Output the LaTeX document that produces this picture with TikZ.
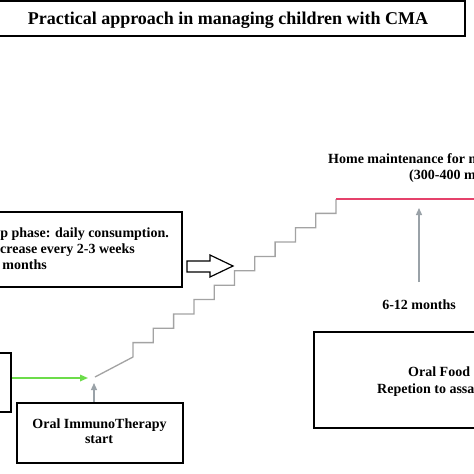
\documentclass[tikz,border=0pt]{standalone}
\usepackage{fontspec}
\setmainfont{Liberation Serif}
\usetikzlibrary{arrows.meta}
\definecolor{stairgrey}{HTML}{A3A3A3}
\definecolor{arrowgrey}{HTML}{9AA2A8}
\definecolor{lightgreen}{HTML}{6CDC4A}
\definecolor{rosered}{HTML}{E5416B}
\begin{document}
\begin{tikzpicture}[x=1pt,y=-1pt,
  box/.style={draw=black, line width=2.5pt, inner sep=0pt},
  titlebox/.style={draw=black, line width=2pt, inner sep=0pt},
  txt/.style={font=\fontsize{14}{16}\selectfont\bfseries, inner sep=0pt},
  titletxt/.style={font=\fontsize{18}{20}\selectfont\bfseries, inner sep=0pt},
  stair/.style={draw=stairgrey, line width=1.3pt},
  greyarrow/.style={draw=arrowgrey, line width=1.3pt, -{Triangle[length=7pt,width=6pt]}},
  greenarrow/.style={draw=lightgreen, line width=1.6pt, -{Triangle[length=8pt,width=6.5pt]}},
  redline/.style={draw=rosered, line width=2.4pt},
  hollowarrow/.style={draw=black, line width=1.2pt, fill=white, line join=miter}
]
\useasboundingbox (0,0) rectangle (474,474);
\clip (0,0) rectangle (474,474);
\fill[white] (0,0) rectangle (474,474);

% title
\node[titlebox, minimum width=470pt, minimum height=35pt] (title) at (230,18.5) {};
\node[titletxt, anchor=base] (titletext) at (228,24) {Practical approach in managing children with CMA};

% boxes
\node[box, minimum width=187pt, minimum height=75pt] (phase) at (88.5,249.5) {};
\node[txt, anchor=base east] (ph1) at (169,237) {p phase: daily consumption.};
\node[txt, anchor=base east] (ph2) at (135,253) {crease every 2-3 weeks};
\node[txt, anchor=base east] (ph3) at (47,269) {months};

\node[box, minimum width=16pt, minimum height=59pt] (left) at (3,382.5) {};

\node[box, minimum width=166pt, minimum height=60pt] (oit) at (100,433) {};
\node[txt, anchor=base] (oit1) at (99.5,428) {Oral ImmunoTherapy};
\node[txt, anchor=base] (oit2) at (99,443) {start};

\node[box, minimum width=170pt, minimum height=96pt] (food) at (399,380) {};
\node[txt, anchor=base west] (food1) at (408,376) {Oral Food};
\node[txt, anchor=base west] (food2) at (377,393) {Repetion to assa};

\node[txt, anchor=base west] (home1) at (328,163) {Home maintenance for m};
\node[txt, anchor=base west] (home2) at (409,179) {(300-400 m};

\node[txt, anchor=base] (months) at (419,309) {6-12 months};

% stairs
\coordinate (s0) at (95,377);
\coordinate (s1) at (133,357);
\coordinate (top) at (336,199);
\draw[stair] (s0) -- (s1)
  \foreach \k in {1,...,10} { -- ++(0,-14.364) -- ++(20.3,0) }
  -- (top);
\coordinate (redend) at (480,199);
\draw[redline] (top) -- (redend);

% arrows
\coordinate (gtip) at (88,378);
\draw[greenarrow] (left.east |- gtip) -- (gtip);
\coordinate (otip) at (94,383);
\draw[greyarrow] (oit.north -| otip) -- (otip);
\coordinate (mbot) at (419,282);
\coordinate (mtip) at (419,208);
\draw[greyarrow] (mbot) -- (mtip);

% hollow block arrow
\draw[hollowarrow] (187,261) -- (210,261) -- (210,255) -- (233,266) -- (210,277) -- (210,272) -- (187,272) -- cycle;
\end{tikzpicture}
\end{document}
